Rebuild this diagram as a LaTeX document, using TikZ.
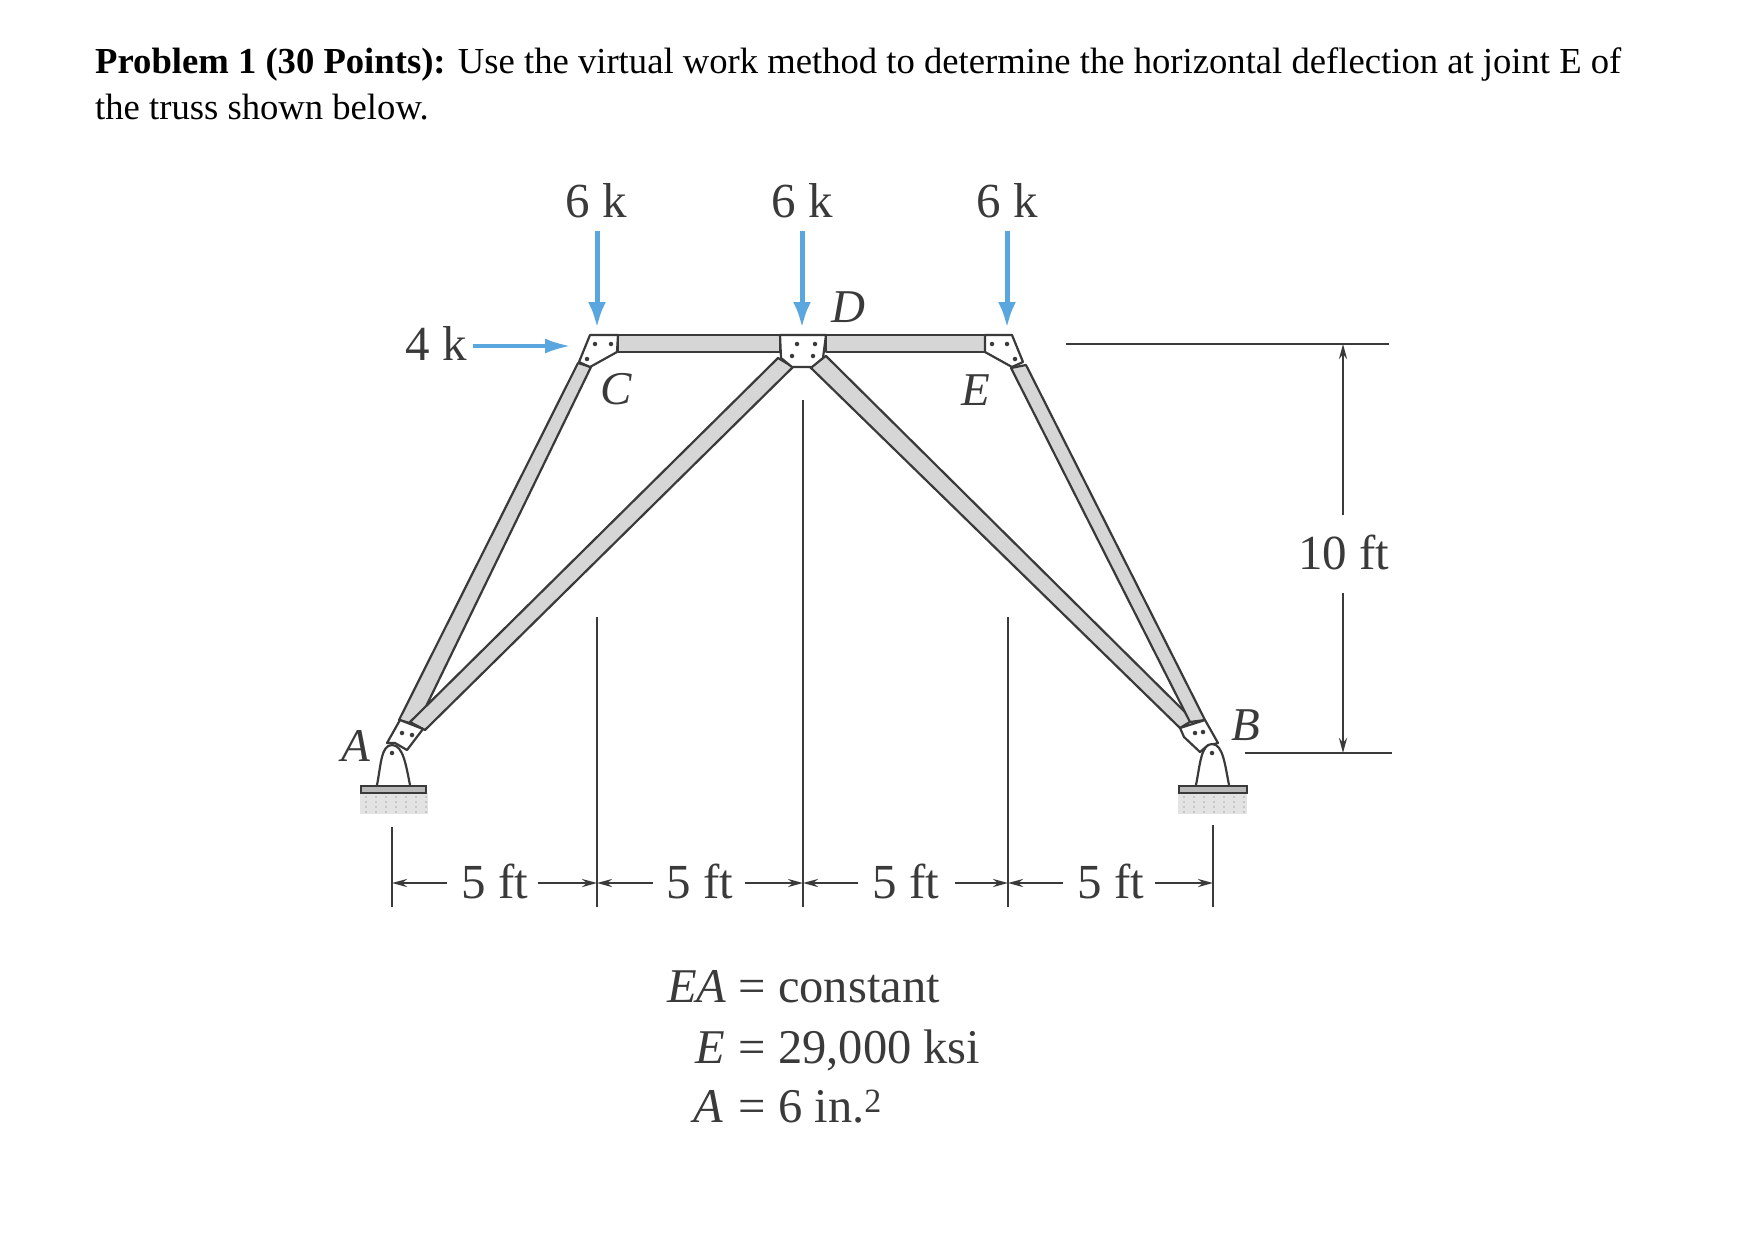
\documentclass[tikz,border=0pt]{standalone}
\usepackage{fontspec}
\setmainfont{Liberation Serif}
\usetikzlibrary{arrows.meta}
\definecolor{ink}{HTML}{3A3A3A}
\definecolor{blueload}{HTML}{5AA7E0}
\definecolor{steel}{HTML}{D6D6D6}
\tikzset{
  title/.style={anchor=base west,inner sep=0pt,font=\fontsize{36.65}{44}\selectfont,text=black},
  lab/.style={inner sep=0pt,font=\fontsize{49}{52}\selectfont,text=ink},
  ital/.style={inner sep=0pt,font=\fontsize{47}{50}\selectfont\itshape,text=ink},
  eqn/.style={anchor=base west,inner sep=0pt,font=\fontsize{48.5}{52}\selectfont,text=ink},
  member/.style={fill=steel,draw=ink,line width=2.2pt,line join=round},
  gusset/.style={fill=white,draw=ink,line width=2.2pt,line join=round},
  rivet/.style={circle,fill=ink,inner sep=0pt,minimum size=4.5pt},
  load/.style={blueload,line width=5pt,-{Latex[length=26pt,width=18pt]}},
  loadh/.style={blueload,line width=4pt,-{Latex[length=26pt,width=15pt]}},
  dimline/.style={ink,line width=2.4pt},
  dimarrow/.style={ink,line width=2.4pt,-{Stealth[length=15pt,width=8pt]}},
  plate/.style={fill=gray!55,draw=ink,line width=2.2pt},
  soil/.style={fill=black!11,draw=none},
  soilmark/.style={draw=black!22,line width=1.5pt,dash pattern=on 2pt off 3pt},
}
\newcommand{\lhs}[2]{\makebox[#1pt][l]{\textit{#2}}\makebox[40pt][l]{=}}
\begin{document}
\begin{tikzpicture}[x=1pt,y=-1pt]
\useasboundingbox (0,0) rectangle (1737,1240);
% title
\node[title] (t1) at (95,73) {\textbf{Problem 1 (30 Points):} Use the virtual work method to determine the horizontal deflection at joint E of};
\node[title] (t2) at (95,119) {the truss shown below.};
% horizontal members
\draw[member] (618,335) rectangle (780,352);
\draw[member] (826,335) rectangle (985,352);
% diagonal members
\draw[member] (578,363) -- (591,367) -- (417,725) -- (399,720) -- cycle;
\draw[member] (778,358) -- (793,367) -- (425,730) -- (410,722) -- cycle;
\draw[member] (826,356) -- (810,367) -- (1180,728) -- (1193,720) -- cycle;
\draw[member] (1026,365) -- (1011,368) -- (1190,722) -- (1205,720) -- cycle;
% gussets
\draw[gusset] (590,335) -- (618,335) -- (617,352) -- (590,367) -- (579,362) -- cycle;
\draw[gusset] (780,335) -- (826,335) -- (823,358) -- (812,367) -- (792,367) -- (781,358) -- cycle;
\draw[gusset] (985,335) -- (1012,335) -- (1023,362) -- (1012,367) -- (985,352) -- cycle;
\draw[gusset] (400,720) -- (423,729) -- (407,750) -- (395,743) -- (387,743) -- cycle;
\draw[gusset] (1180,728) -- (1205,720) -- (1218,743) -- (1207,746) -- (1200,752) -- (1184,737) -- cycle;
% rivets
\foreach \p in {(595,344),(611,344),(587,359),(797,344),(815,344),(792,356),(813,356),(992,344),(1007,344),(1015,359),(402,733),(412,735),(1195,733),(1203,732)}
  \node[rivet] at \p {};
% supports
\fill[soil] (360,793) rectangle (428,814);
\fill[soil] (1178,793) rectangle (1247,814);
\foreach \x in {366,376,...,426}{\draw[soilmark] (\x,796) -- (\x,813);}
\foreach \x in {1184,1194,...,1244}{\draw[soilmark] (\x,796) -- (\x,813);}
\draw[gusset] (377,785) .. controls (381,765) and (381,745) .. (392,745) .. controls (403,745) and (406,765) .. (410,785);
\draw[gusset] (1196,785) .. controls (1200,765) and (1201,744) .. (1212,744) .. controls (1223,744) and (1225,765) .. (1229,785);
\draw[plate] (361,786) rectangle (426,793);
\draw[plate] (1179,786) rectangle (1247,793);
\node[rivet] (pinA) at (392,753) {};
\node[rivet] (pinB) at (1212,753) {};
% loads
\coordinate (l1s) at (597,231); \coordinate (l1e) at (597,328);
\coordinate (l2s) at (802,231); \coordinate (l2e) at (802,328);
\coordinate (l3s) at (1007,231); \coordinate (l3e) at (1007,328);
\coordinate (l4s) at (473,346); \coordinate (l4e) at (571,346);
\draw[load] (l1s) -- (l1e);
\draw[load] (l2s) -- (l2e);
\draw[load] (l3s) -- (l3e);
\draw[loadh] (l4s) -- (l4e);
\node[lab] (k1) at (596,201) {6 k};
\node[lab] (k2) at (802,201) {6 k};
\node[lab] (k3) at (1007,201) {6 k};
\node[lab] (k4) at (436,343) {4 k};
% joint labels
\node[ital] (C) at (616,389) {C};
\node[ital] (D) at (848,307) {D};
\node[ital] (E) at (976,390) {E};
\node[ital] (A) at (356,746) {A};
\node[ital] (B) at (1246,725) {B};
% extension lines
\draw[dimline] (392,827) -- (392,907);
\draw[dimline] (597,617) -- (597,907);
\draw[dimline] (803,400) -- (803,907);
\draw[dimline] (1008,617) -- (1008,907);
\draw[dimline] (1213,825) -- (1213,907);
\draw[dimline] (1066,344) -- (1389,344);
\draw[dimline] (1245,753) -- (1392,753);
% horizontal dimensions
\node[lab] (d1) at (495,881) {5 ft};
\node[lab] (d2) at (700,881) {5 ft};
\node[lab] (d3) at (906,881) {5 ft};
\node[lab] (d4) at (1111,881) {5 ft};
\draw[dimarrow] (447,883) -- (392,883);
\draw[dimarrow] (538,883) -- (597,883);
\draw[dimarrow] (653,883) -- (597,883);
\draw[dimarrow] (745,883) -- (803,883);
\draw[dimarrow] (858,883) -- (803,883);
\draw[dimarrow] (955,883) -- (1008,883);
\draw[dimarrow] (1063,883) -- (1008,883);
\draw[dimarrow] (1155,883) -- (1213,883);
% vertical dimension
\node[lab] (h) at (1344,552) {10 ft};
\draw[dimarrow] (1343,515) -- (1343,344);
\draw[dimarrow] (1343,593) -- (1343,753);
% properties
\node[eqn] (p1) at (667,1002) {\lhs{71}{EA}constant};
\node[eqn] (p2) at (695,1063) {\lhs{43}{E}29,000 ksi};
\node[eqn] (p3) at (693,1122) {\lhs{45}{A}6 in.\textsuperscript{2}};
\end{tikzpicture}
\end{document}
